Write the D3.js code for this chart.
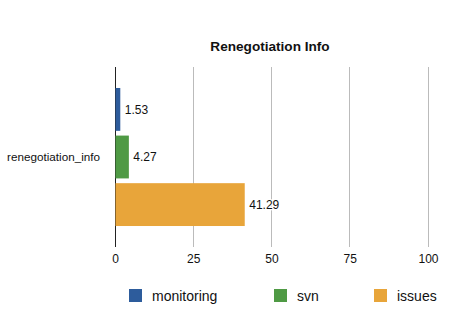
<!DOCTYPE html>
<html>
<head>
<meta charset="utf-8">
<script src="https://cdn.jsdelivr.net/npm/d3@7"></script>
<style>
  html, body { margin: 0; padding: 0; background: #fff; }
  svg { display: block; font-family: "Liberation Sans", Arial, Helvetica, sans-serif; }
</style>
</head>
<body>
<svg id="chart" width="474" height="324"></svg>
<script>
// Renegotiation info share per source
const categories = ["renegotiation_info"];
const seriesNames = ["monitoring", "svn", "issues"];
const seriesColors = ["#2d5c9c", "#4f9a44", "#e8a53a"];
const monitoring = [1.53];
const svn = [4.27];
const issues = [41.29];
const tickValues = [0, 25, 50, 75, 100];

const seriesValues = [monitoring, svn, issues];

const svg = d3.select("#chart");
const margin = { left: 115, right: 46, top: 67, bottom: 77 };
const W = 474, H = 324;

const x = d3.scaleLinear().domain([0, 100]).range([margin.left, W - margin.right]);
const y0 = d3.scaleBand().domain(categories).range([margin.top, H - margin.bottom]).paddingInner(0).paddingOuter(0.11);
const y1 = d3.scaleBand().domain(seriesNames).range([0, y0.bandwidth()]).padding(0.1);

// title
svg.append("text")
  .attr("x", 270).attr("y", 51)
  .attr("text-anchor", "middle")
  .attr("font-size", 13.6).attr("font-weight", "bold")
  .attr("fill", "#111")
  .text("Renegotiation Info");

// vertical grid lines
svg.append("g")
  .selectAll("line")
  .data(tickValues)
  .join("line")
  .attr("x1", d => x(d)).attr("x2", d => x(d))
  .attr("y1", margin.top).attr("y2", H - margin.bottom)
  .attr("stroke", d => d === 0 ? "#222" : "#bbb")
  .attr("stroke-width", 1)
  .attr("shape-rendering", "crispEdges");

// x axis labels
const xAxis = d3.axisBottom(x).tickValues(tickValues).tickSize(0).tickPadding(7);
const gx = svg.append("g")
  .attr("transform", `translate(0,${H - margin.bottom})`)
  .call(xAxis);
gx.select(".domain").remove();
gx.selectAll("text").attr("font-size", 12).attr("fill", "#111")
  .attr("font-family", "Liberation Sans, Arial, sans-serif");

// category label
svg.append("g")
  .selectAll("text")
  .data(categories)
  .join("text")
  .attr("x", margin.left - 15)
  .attr("y", d => y0(d) + y0.bandwidth() / 2)
  .attr("dy", "0.35em")
  .attr("text-anchor", "end")
  .attr("font-size", 11.7).attr("fill", "#111")
  .text(d => d);

// bars
const groups = svg.append("g")
  .selectAll("g")
  .data(categories)
  .join("g")
  .attr("transform", d => `translate(0,${y0(d)})`);

const rows = (c, ci) => seriesNames.map((s, si) => ({ s, si, v: seriesValues[si][ci] }));

groups.selectAll("rect")
  .data(rows)
  .join("rect")
  .attr("x", x(0) + 0.5)
  .attr("y", d => y1(d.s))
  .attr("width", d => x(d.v) - x(0))
  .attr("height", y1.bandwidth())
  .attr("fill", d => seriesColors[d.si]);

// value labels
groups.selectAll("text")
  .data(rows)
  .join("text")
  .attr("x", d => x(d.v) + 5)
  .attr("y", d => y1(d.s) + y1.bandwidth() / 2)
  .attr("dy", "0.35em")
  .attr("font-size", 12).attr("fill", "#111")
  .attr("stroke", "#fff").attr("stroke-width", 2.5).attr("paint-order", "stroke")
  .text(d => d.v.toFixed(2));

// legend
const legendX = [129, 274, 374];
const legend = svg.append("g")
  .selectAll("g")
  .data(seriesNames)
  .join("g")
  .attr("transform", (d, i) => `translate(${legendX[i]},289)`);
legend.append("rect")
  .attr("width", 13).attr("height", 13)
  .attr("fill", (d, i) => seriesColors[i]);
legend.append("text")
  .attr("x", 23).attr("y", 7)
  .attr("dy", "0.35em")
  .attr("font-size", 14).attr("fill", "#111")
  .text(d => d);
</script>
</body>
</html>
